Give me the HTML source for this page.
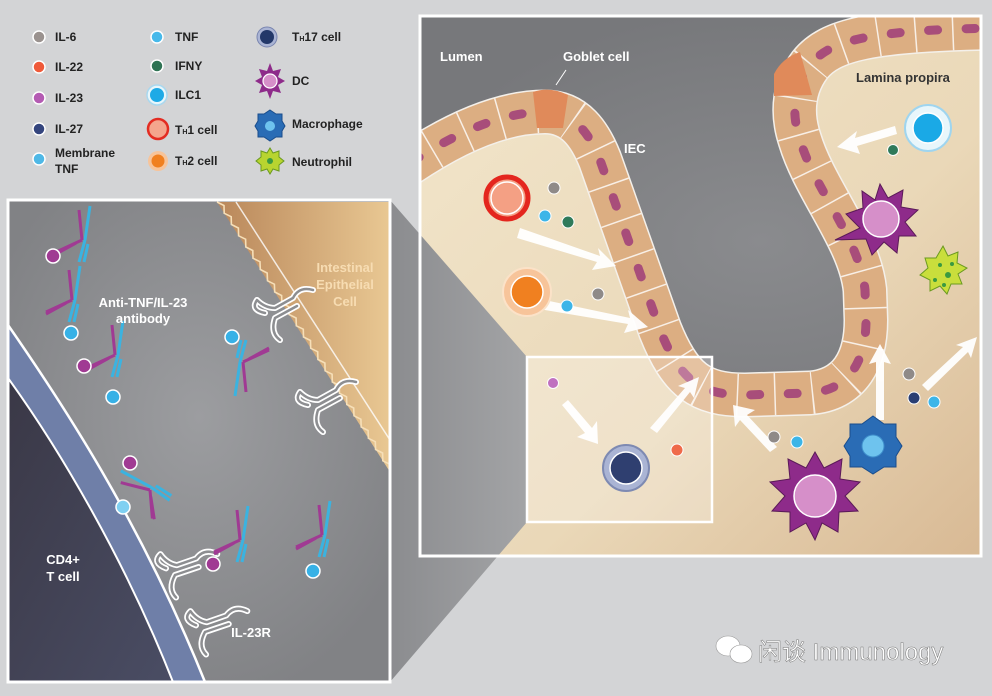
<!DOCTYPE html>
<html><head><meta charset="utf-8"><style>
html,body{margin:0;padding:0;background:#d3d4d6;}
svg{display:block;font-family:"Liberation Sans",Arial,sans-serif;font-weight:bold;}
</style></head><body>
<svg width="992" height="696" viewBox="0 0 992 696" xmlns="http://www.w3.org/2000/svg">
<defs>
<clipPath id="rp"><rect x="420" y="16" width="561" height="540"/></clipPath>
<linearGradient id="lam" x1="0" y1="0" x2="1" y2="1"><stop offset="0" stop-color="#f2e6cc"/><stop offset="0.6" stop-color="#ead8b8"/><stop offset="1" stop-color="#d8b994"/></linearGradient>
<radialGradient id="lum" cx="0.6" cy="0.6" r="0.6"><stop offset="0" stop-color="#8a8b8e"/><stop offset="1" stop-color="#77787b"/></radialGradient>
<radialGradient id="lp" cx="0.5" cy="0.45" r="0.6"><stop offset="0" stop-color="#9c9da0"/><stop offset="1" stop-color="#818285"/></radialGradient>
<linearGradient id="iec" x1="0" y1="0" x2="1" y2="0"><stop offset="0" stop-color="#b9875a"/><stop offset="1" stop-color="#e9c893"/></linearGradient>
<linearGradient id="tc" x1="0" y1="0" x2="1" y2="1"><stop offset="0" stop-color="#3a3846"/><stop offset="1" stop-color="#4a4d64"/></linearGradient>
<linearGradient id="proj" x1="0" y1="0" x2="1" y2="0"><stop offset="0" stop-color="#8b8c8f"/><stop offset="1" stop-color="#a3a4a6"/></linearGradient>
<path id="band" fill="none" d="M400,170 C450,135 500,112 545,112 C575,112 590,135 600,160 L660,330 C680,380 700,395 745,395 L810,393 C850,390 866,360 866,320 L865,290 C860,240 815,190 800,140 C790,110 795,85 810,65 C830,40 870,30 1000,28"/>
<g id="ab">
 <path d="M0,0 L-3,-30 M0,0 L-26,12 M-6,3 L-26,14" stroke="#a03a93" stroke-width="3" fill="none"/>
 <path d="M3,0 L8,-34 M3,0 L-3,22 M6,4 L2,22" stroke="#3bb3e0" stroke-width="3" fill="none"/>
</g>
<g id="rec" fill="none" stroke-linecap="round" stroke-linejoin="round"><path d="M0,0 L22,-12 M-10,-5 Q-25,-8 -18,-18 Q-10,-10 0,-10 L18,-20 M0,0 Q-5,15 5,22 M18,-20 Q24,-32 38,-28" stroke="#fff" stroke-width="6"/><path d="M0,0 L22,-12 M-10,-5 Q-25,-8 -18,-18 Q-10,-10 0,-10 L18,-20 M0,0 Q-5,15 5,22 M18,-20 Q24,-32 38,-28" stroke="#8d8e91" stroke-width="2.5"/></g>
</defs>

<!-- legend -->
<g font-size="12" fill="#222">
<circle cx="39" cy="37" r="6" fill="#9a928f" stroke="#fff" stroke-width="1.5"/><text x="55" y="41">IL-6</text>
<circle cx="39" cy="67" r="6" fill="#ef5a3a" stroke="#fff" stroke-width="1.5"/><text x="55" y="71">IL-22</text>
<circle cx="39" cy="98" r="6" fill="#b45bb3" stroke="#fff" stroke-width="1.5"/><text x="55" y="102">IL-23</text>
<circle cx="39" cy="129" r="6" fill="#34457e" stroke="#fff" stroke-width="1.5"/><text x="55" y="133">IL-27</text>
<circle cx="39" cy="159" r="6" fill="#4fb8e6" stroke="#fff" stroke-width="1.5"/><text x="55" y="157">Membrane</text><text x="55" y="173">TNF</text>
<circle cx="157" cy="37" r="6" fill="#47b9ea" stroke="#fff" stroke-width="1.5"/><text x="175" y="41">TNF</text>
<circle cx="157" cy="66" r="6" fill="#2f7354" stroke="#fff" stroke-width="1.5"/><text x="175" y="70">IFNY</text>
<circle cx="157" cy="95" r="10" fill="#e8f6fb" stroke="#a9d8ef" stroke-width="1.5"/><circle cx="157" cy="95" r="7" fill="#1eaae6"/><text x="175" y="99">ILC1</text>
<circle cx="158" cy="129" r="10" fill="#f4a58d" stroke="#e32c22" stroke-width="2.5"/><text x="175" y="134">T<tspan font-size="7">H</tspan>1 cell</text>
<circle cx="158" cy="161" r="10" fill="#f7c49a"/><circle cx="158" cy="161" r="6.5" fill="#f08020"/><text x="175" y="165">T<tspan font-size="7">H</tspan>2 cell</text>
<circle cx="267" cy="37" r="10" fill="#aab4d4" stroke="#7a86b0" stroke-width="1"/><circle cx="267" cy="37" r="7" fill="#233869"/><text x="292" y="41">T<tspan font-size="7">H</tspan>17 cell</text>
<polygon points="270,63 273,71 281,69 278,77 285,81 278,85 281,93 273,91 270,99 267,91 259,93 262,85 255,81 262,77 259,69 267,71" fill="#8e2b8a"/><circle cx="270" cy="81" r="7" fill="#d68fc9" stroke="#fff" stroke-width="1.2"/><text x="292" y="85">DC</text>
<polygon points="270,110 276,114 282,114 282,121 285,126 282,131 282,137 276,137 270,141 264,137 258,137 258,131 255,126 258,121 258,114 264,114" fill="#2a6cb5" stroke="#1a4d8c"/><circle cx="270" cy="126" r="5" fill="#6ec3ee"/><text x="292" y="128">Macrophage</text>
<polygon points="270,148 273,153 279,151 279,157 284,161 279,165 279,171 273,169 270,174 267,169 261,171 261,165 256,161 261,157 261,151 267,153" fill="#b8d430" stroke="#6a9a20"/><circle cx="270" cy="161" r="3" fill="#3a9a40"/><text x="292" y="166">Neutrophil</text>
</g>

<!-- right panel -->
<g clip-path="url(#rp)">
<rect x="420" y="16" width="561" height="540" fill="url(#lam)"/>
<path d="M400,170 C450,135 500,112 545,112 C575,112 590,135 600,160 L660,330 C680,380 700,395 745,395 L810,393 C850,390 866,360 866,320 L865,290 C860,240 815,190 800,140 C790,110 795,85 810,65 C830,40 870,30 1000,28 L1000,10 L400,10 Z" fill="url(#lum)"/>
<use href="#band" stroke="#f4f0ea" stroke-width="45"/>
<use href="#band" stroke="#dcae82" stroke-width="42"/>
<use href="#band" stroke="#fff" stroke-width="42" stroke-dasharray="1.5 36" stroke-opacity="0.8"/>
<use href="#band" stroke="#a84d7a" stroke-width="9" stroke-dasharray="9 28.5" stroke-linecap="round" stroke-dashoffset="-14"/>
<path d="M533,92 Q550,86 568,95 L563,128 L537,128 Z" fill="#e08a5a"/>
<path d="M774,74 Q782,58 800,52 L812,95 L774,96 Z" fill="#e08a5a"/>
</g>
<line x1="556" y1="85" x2="566" y2="70" stroke="#fff" stroke-width="1"/>
<g font-size="13" fill="#fff">
<text x="440" y="61">Lumen</text><text x="563" y="61">Goblet cell</text><text x="624" y="153">IEC</text>
</g>
<text x="856" y="82" font-size="13" fill="#333">Lamina propira</text>

<!-- projection -->
<polygon points="390,200 527,357 527,522 390,682" fill="url(#proj)"/>
<rect x="527" y="357" width="185" height="165" fill="#fff" fill-opacity="0.25" stroke="#fff" stroke-width="2.5"/>
<rect x="420" y="16" width="561" height="540" fill="none" stroke="#fff" stroke-width="3"/>

<!-- arrows -->
<g fill="#fff" opacity="0.95">
<path d="M520,228 L600,256 L598,248 L616,266 L592,270 L597,262 L517,238 Z"/>
<path d="M535,298 L630,318 L628,310 L648,327 L624,333 L628,324 L533,308 Z"/>
<path d="M568,400 L592,428 L597,421 L598,444 L577,437 L585,433 L562,405 Z"/>
<path d="M650,428 L685,388 L678,386 L699,377 L694,398 L690,392 L657,433 Z"/>
<path d="M770,452 L740,420 L735,427 L733,405 L755,410 L747,415 L777,447 Z"/>
<path d="M876,420 L876,362 L869,364 L880,344 L891,364 L884,362 L884,420 Z"/>
<path d="M922,385 L963,347 L956,345 L977,337 L971,358 L968,352 L928,391 Z"/>
<path d="M895,126 L855,138 L857,131 L837,147 L860,154 L857,146 L897,134 Z"/>
</g>

<!-- cells -->
<circle cx="507" cy="198" r="21" fill="#f4a084" stroke="#e4261e" stroke-width="5"/><circle cx="507" cy="198" r="16" fill="none" stroke="#fff" stroke-width="1.5"/>
<circle cx="554" cy="188" r="6" fill="#8f8a88" stroke="#fff"/><circle cx="545" cy="216" r="6" fill="#3cb5e8" stroke="#fff"/><circle cx="568" cy="222" r="6" fill="#2f7a5a" stroke="#fff"/>
<circle cx="527" cy="292" r="24" fill="#f7c49a" stroke="#fbe2c8" stroke-width="2"/><circle cx="527" cy="292" r="16" fill="#f08020" stroke="#fff" stroke-width="1.5"/>
<circle cx="598" cy="294" r="6" fill="#8f8a88" stroke="#fff"/><circle cx="567" cy="306" r="6" fill="#3cb5e8" stroke="#fff"/>
<circle cx="928" cy="128" r="23" fill="#e8f6fb" stroke="#9fd5ef" stroke-width="2"/><circle cx="928" cy="128" r="15" fill="#1aa9e6" stroke="#fff" stroke-width="1.5"/>
<circle cx="893" cy="150" r="5.5" fill="#2f7a5a" stroke="#fff"/>
<polygon points="880,184 888,198 903,190 901,207 918,210 905,222 916,236 899,236 897,253 884,242 872,255 866,239 835,240 860,228 846,214 863,208 862,191 875,200" fill="#8e2b8a" stroke="#5a1a58"/>
<circle cx="881" cy="219" r="18" fill="#d68fc9" stroke="#fff" stroke-width="1.5"/>
<polygon points="943,246 948,256 958,252 957,263 967,268 958,274 962,284 951,284 947,294 940,286 930,291 930,280 920,275 928,268 925,258 936,258" fill="#c9de3c" stroke="#6a9a20"/>
<g fill="#3a9a40"><circle cx="940" cy="265" r="2"/><circle cx="948" cy="275" r="3"/><circle cx="935" cy="280" r="2"/><circle cx="952" cy="264" r="2"/><circle cx="944" cy="285" r="2"/></g>
<polygon points="815,452 824,468 842,459 840,479 860,482 845,496 858,511 839,512 838,532 822,523 815,540 806,523 790,532 790,512 772,511 785,496 770,482 790,479 788,459 806,468" fill="#8e2b8a" stroke="#5a1a58"/>
<circle cx="815" cy="496" r="21" fill="#d68fc9" stroke="#fff" stroke-width="1.5"/>
<polygon points="873,416 884,424 896,424 896,437 902,446 896,456 896,467 884,467 873,474 862,467 850,467 850,456 844,446 850,437 850,424 862,424" fill="#2a6cb5" stroke="#1a4d8c"/>
<circle cx="873" cy="446" r="11" fill="#6ec3ee" stroke="#3f8fcc"/>
<circle cx="909" cy="374" r="6" fill="#8f8a88" stroke="#fff"/><circle cx="914" cy="398" r="6" fill="#2a3e73" stroke="#fff"/><circle cx="934" cy="402" r="6" fill="#3cb5e8" stroke="#fff"/>
<circle cx="774" cy="437" r="6" fill="#8f8a88" stroke="#fff"/><circle cx="797" cy="442" r="6" fill="#3cb5e8" stroke="#fff"/>
<circle cx="626" cy="468" r="23" fill="#aab4d4" stroke="#7e8ab2" stroke-width="2"/><circle cx="626" cy="468" r="16" fill="#2f3f70" stroke="#fff" stroke-width="1.5"/>
<circle cx="553" cy="383" r="5.5" fill="#c070c0" stroke="#fff"/><circle cx="677" cy="450" r="6" fill="#ef6a4a" stroke="#fff"/>

<!-- left panel -->
<rect x="8" y="200" width="382" height="482" fill="url(#lp)"/>
<polygon points="217,202 390,202 390,472" fill="url(#iec)"/>
<polyline id="zig" fill="none" stroke="#f6dfb8" stroke-width="1.6" points=""/>
<line x1="236" y1="202" x2="390" y2="440" stroke="#fff" stroke-width="1.5" opacity="0.8"/>
<path d="M8,325 C60,400 140,520 205,682 L8,682 Z" fill="#6f7fa8"/>
<path d="M8,325 C60,400 140,520 205,682" fill="none" stroke="#fff" stroke-width="2.5"/>
<path d="M8,378 C60,450 125,560 173,682 L8,682 Z" fill="url(#tc)"/>
<path d="M8,378 C60,450 125,560 173,682" fill="none" stroke="#fff" stroke-width="2"/>
<use href="#rec" transform="translate(275,318)"/><use href="#rec" transform="translate(318,410)"/>
<use href="#rec" transform="translate(175,575) rotate(10)"/><use href="#rec" transform="translate(205,632) rotate(10)"/>
<use href="#ab" transform="translate(82,240)"/><circle cx="53" cy="256" r="7" fill="#a03a93" stroke="#fff" stroke-width="1.5"/>
<use href="#ab" transform="translate(72,300)"/><circle cx="71" cy="333" r="7" fill="#37b1e6" stroke="#fff" stroke-width="1.5"/>
<use href="#ab" transform="translate(115,355)"/><circle cx="84" cy="366" r="7" fill="#a03a93" stroke="#fff" stroke-width="1.5"/><circle cx="113" cy="397" r="7" fill="#37b1e6" stroke="#fff" stroke-width="1.5"/>
<use href="#ab" transform="translate(243,362) rotate(180)"/><circle cx="232" cy="337" r="7" fill="#37b1e6" stroke="#fff" stroke-width="1.5"/>
<use href="#ab" transform="translate(150,490) rotate(-70)"/><circle cx="130" cy="463" r="7" fill="#a03a93" stroke="#fff" stroke-width="1.5"/><circle cx="123" cy="507" r="7" fill="#7fd0f2" stroke="#fff" stroke-width="1.5"/>
<use href="#ab" transform="translate(240,540)"/><circle cx="213" cy="564" r="7" fill="#a03a93" stroke="#fff" stroke-width="1.5"/>
<use href="#ab" transform="translate(322,535)"/><circle cx="313" cy="571" r="7" fill="#37b1e6" stroke="#fff" stroke-width="1.5"/>
<g font-size="13" text-anchor="middle">
<text x="345" y="272" fill="#f7dcb2">Intestinal</text><text x="345" y="289" fill="#f7dcb2">Epithelial</text><text x="345" y="306" fill="#f7dcb2">Cell</text>
<text x="143" y="307" fill="#fff">Anti-TNF/IL-23</text><text x="143" y="323" fill="#fff">antibody</text>
<text x="63" y="564" fill="#fff">CD4+</text><text x="63" y="581" fill="#fff">T cell</text>
<text x="251" y="637" fill="#fff">IL-23R</text>
</g>
<rect x="8" y="200" width="382" height="482" fill="none" stroke="#fff" stroke-width="3"/>

<!-- watermark -->
<g fill="#fff" stroke="#999" stroke-width="0.6">
<ellipse cx="728" cy="646" rx="12" ry="10"/><ellipse cx="741" cy="654" rx="11" ry="9"/>
</g>
<text x="758" y="660" font-size="24" font-weight="normal" fill="#fff" stroke="#777" stroke-width="0.5" font-family="'Liberation Sans','Noto Sans CJK SC',sans-serif">闲谈 Immunology</text>
</svg>
<script>
var p=[],x0=217,y0=202,x1=390,y1=472,n=48;
var dx=x1-x0,dy=y1-y0,L=Math.hypot(dx,dy),nx=dy/L,ny=-dx/L;
for(var i=0;i<=n;i++){var t=i/n,a=(i%2?4:0);p.push((x0+dx*t+nx*a).toFixed(1)+','+(y0+dy*t+ny*a).toFixed(1));}
document.getElementById('zig').setAttribute('points',p.join(' '));
</script>
</body></html>
